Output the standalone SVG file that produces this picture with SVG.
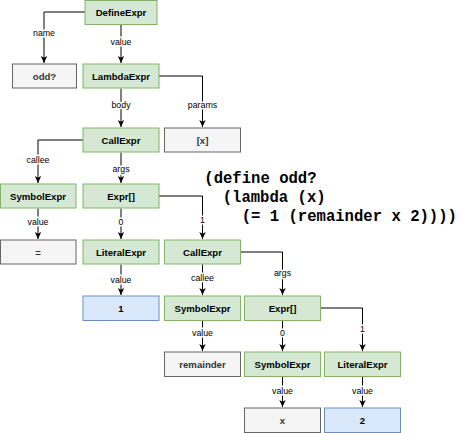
<svg xmlns="http://www.w3.org/2000/svg" width="474" height="433" viewBox="0 0 474 433">
<style>
  .g rect { fill: #d5e8d4; stroke: #82b366; stroke-width: 1; }
  .w rect { fill: #f5f5f5; stroke: #666666; stroke-width: 1; }
  .b rect { fill: #dae8fc; stroke: #6c8ebf; stroke-width: 1; }
  .node text { font-family: "Liberation Sans", Arial, sans-serif; font-weight: bold; font-size: 9.6px; fill: #000; text-anchor: middle; dominant-baseline: central; }
  .w text { fill: #333333; }
  #connectors path { fill: none; stroke: #000; stroke-width: 1; marker-end: url(#arr); }
  #connectors text { font-family: "Liberation Sans", Arial, sans-serif; font-size: 8.8px; fill: #000; text-anchor: middle; dominant-baseline: central; stroke: #fff; stroke-width: 3; paint-order: stroke; stroke-linejoin: round; }
  .code { font-family: "Liberation Mono", "Courier New", monospace; font-weight: bold; font-size: 15.6px; fill: #000; }
</style>
<defs>
  <marker id="arr" markerUnits="userSpaceOnUse" markerWidth="8" markerHeight="8" viewBox="0 0 8 8" refX="7" refY="4" orient="auto">
    <path d="M0,0.8 L7,4 L0,7.2 L1.8,4 Z" fill="#000"/>
  </marker>
</defs>
<rect width="474" height="433" fill="#fff"/>

<g id="connectors">
  <path d="M85,12 H44 V63"/>
  <text x="44" y="33">name</text>
  <path d="M121,24.5 V63"/>
  <text x="121" y="42">value</text>
  <path d="M159,76 H202.5 V127"/>
  <text x="202.5" y="105">params</text>
  <path d="M121,88.5 V127"/>
  <text x="121" y="105">body</text>
  <path d="M83,140 H38 V183"/>
  <text x="38" y="160">callee</text>
  <path d="M121,152.5 V183"/>
  <text x="121" y="169">args</text>
  <path d="M38,208.5 V239"/>
  <text x="38" y="222">value</text>
  <path d="M121,208.5 V239"/>
  <text x="121" y="222">0</text>
  <path d="M159,196 H202.5 V239"/>
  <text x="202.5" y="220">1</text>
  <path d="M121,264.5 V295"/>
  <text x="121" y="280">value</text>
  <path d="M202.5,264.5 V295"/>
  <text x="202.5" y="278">callee</text>
  <path d="M241,252 H282.5 V295"/>
  <text x="282.5" y="273">args</text>
  <path d="M202.5,321 V351"/>
  <text x="202.5" y="333">value</text>
  <path d="M282.5,321 V351"/>
  <text x="282.5" y="333">0</text>
  <path d="M321,308 H362.5 V351"/>
  <text x="362.5" y="329">1</text>
  <path d="M282.5,377 V407"/>
  <text x="282.5" y="391">value</text>
  <path d="M362.5,377 V407"/>
  <text x="362.5" y="391">value</text>
</g>

<g id="n-define" class="node g"><rect x="85" y="0.5" width="72" height="24"/><text x="121" y="12.5">DefineExpr</text></g>
<g id="n-odd" class="node w"><rect x="12.5" y="64" width="64" height="24"/><text x="44.5" y="76">odd?</text></g>
<g id="n-lambda" class="node g"><rect x="83" y="64" width="76" height="24"/><text x="121" y="76">LambdaExpr</text></g>
<g id="n-call1" class="node g"><rect x="83" y="128" width="76" height="24"/><text x="121" y="140">CallExpr</text></g>
<g id="n-params" class="node w"><rect x="164.5" y="128" width="76" height="24"/><text x="202.5" y="140">[x]</text></g>
<g id="n-sym1" class="node g"><rect x="0.5" y="184" width="75.5" height="24"/><text x="38" y="196">SymbolExpr</text></g>
<g id="n-args1" class="node g"><rect x="83" y="184" width="76" height="24"/><text x="121" y="196">Expr[]</text></g>
<g id="n-eq" class="node w"><rect x="0.5" y="240" width="75.5" height="24"/><text x="38" y="252">=</text></g>
<g id="n-lit1" class="node g"><rect x="83" y="240" width="76" height="24"/><text x="121" y="252">LiteralExpr</text></g>
<g id="n-call2" class="node g"><rect x="164.5" y="240" width="76" height="24"/><text x="202.5" y="252">CallExpr</text></g>
<g id="n-one" class="node b"><rect x="83" y="296" width="76" height="24.5"/><text x="121" y="308">1</text></g>
<g id="n-sym2" class="node g"><rect x="164.5" y="296" width="76" height="24.5"/><text x="202.5" y="308">SymbolExpr</text></g>
<g id="n-args2" class="node g"><rect x="244.5" y="296" width="76" height="24.5"/><text x="282.5" y="308">Expr[]</text></g>
<g id="n-rem" class="node w"><rect x="164.5" y="352" width="76" height="24.5"/><text x="202.5" y="364">remainder</text></g>
<g id="n-sym3" class="node g"><rect x="244.5" y="352" width="76" height="24.5"/><text x="282.5" y="364">SymbolExpr</text></g>
<g id="n-lit2" class="node g"><rect x="324.5" y="352" width="76" height="24.5"/><text x="362.5" y="364">LiteralExpr</text></g>
<g id="n-x" class="node w"><rect x="244.5" y="408" width="76" height="24.5"/><text x="282.5" y="420">x</text></g>
<g id="n-two" class="node b"><rect x="324.5" y="408" width="76" height="24.5"/><text x="362.5" y="420">2</text></g>

<g id="code">
  <text class="code" x="204.3" y="182.5" xml:space="preserve">(define odd?</text>
  <text class="code" x="222.7" y="201.8" xml:space="preserve">(lambda (x)</text>
  <text class="code" x="241.7" y="221">(= 1 (remainder x 2))))</text>
</g>
</svg>
